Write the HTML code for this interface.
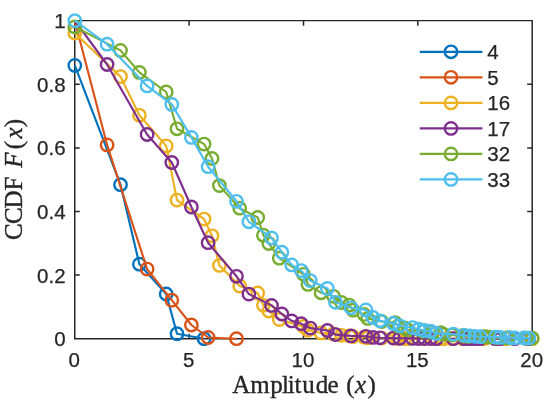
<!DOCTYPE html>
<html><head><meta charset="utf-8"><title>CCDF plot</title>
<style>html,body{margin:0;padding:0;background:#fff;}body{width:550px;height:407px;overflow:hidden;}svg{display:block;}</style>
</head><body>
<svg width="550" height="407" viewBox="0 0 550 407">
<rect width="550" height="407" fill="#fff"/>
<g stroke="#262626" stroke-width="1.5" fill="none">
<path d="M74.75 20.7V338.7H532.2V20.7"/>
<path d="M74.0 20.7H532.95" stroke-width="1.2"/>
<path d="M189.1 338.7v-5.0M189.1 20.7v5.0"/>
<path d="M303.5 338.7v-5.0M303.5 20.7v5.0"/>
<path d="M417.8 338.7v-5.0M417.8 20.7v5.0"/>
<path d="M74.75 275.1h5.0M532.2 275.1h-5.0"/>
<path d="M74.75 211.5h5.0M532.2 211.5h-5.0"/>
<path d="M74.75 147.9h5.0M532.2 147.9h-5.0"/>
<path d="M74.75 84.3h5.0M532.2 84.3h-5.0"/>
</g>
<g font-family="'Liberation Sans', sans-serif" font-size="20.5px" fill="#262626" stroke="#262626" stroke-width="0.25">
<text x="74.2" y="367.2" text-anchor="middle">0</text>
<text x="188.6" y="367.2" text-anchor="middle">5</text>
<text x="303.0" y="367.2" text-anchor="middle">10</text>
<text x="417.3" y="367.2" text-anchor="middle">15</text>
<text x="531.7" y="367.2" text-anchor="middle">20</text>
<text x="65.6" y="346.2" text-anchor="end">0</text>
<text x="65.6" y="282.6" text-anchor="end">0.2</text>
<text x="65.6" y="219.0" text-anchor="end">0.4</text>
<text x="65.6" y="155.4" text-anchor="end">0.6</text>
<text x="65.6" y="91.8" text-anchor="end">0.8</text>
<text x="65.6" y="28.2" text-anchor="end">1</text>
</g>
<g font-family="'Liberation Serif', serif" font-size="25px" fill="#262626" stroke="#262626" stroke-width="0.35" text-anchor="middle">
<text y="392.8"><tspan x="241.2 260 276.4 285.6 291.2 298 308.6 321.9 333 341.5 350.4">Amplitude (</tspan><tspan x="360.6" font-style="italic">x</tspan><tspan x="371.6">)</tspan></text>
<text transform="translate(22.4,0) rotate(-90)" y="0"><tspan x="-231.6 -215.75 -199.5 -183.6 -172">CCDF </tspan><tspan x="-160" font-style="italic">F</tspan><tspan x="-145.1">(</tspan><tspan x="-132.9" font-style="italic">x</tspan><tspan x="-123.1">)</tspan></text>
</g>
<g stroke="#0072BD" fill="none">
<path d="M74.8 65.4 L120.5 184.7 L139.4 264.2 L166.2 294.0 L177.0 333.7 L204.1 338.7" stroke-width="2.15" stroke-linejoin="round"/>
<g stroke-width="2.4">
<circle cx="74.8" cy="65.4" r="6.2"/>
<circle cx="120.5" cy="184.7" r="6.2"/>
<circle cx="139.4" cy="264.2" r="6.2"/>
<circle cx="166.2" cy="294.0" r="6.2"/>
<circle cx="177.0" cy="333.7" r="6.2"/>
<circle cx="204.1" cy="338.7" r="6.2"/>
</g></g>
<g stroke="#D95319" fill="none">
<path d="M74.8 20.7 L107.1 144.9 L147.1 269.1 L171.8 300.2 L191.4 325.0 L208.1 337.5 L236.5 338.7" stroke-width="2.15" stroke-linejoin="round"/>
<g stroke-width="2.4">
<circle cx="107.1" cy="144.9" r="6.2"/>
<circle cx="147.1" cy="269.1" r="6.2"/>
<circle cx="171.8" cy="300.2" r="6.2"/>
<circle cx="191.4" cy="325.0" r="6.2"/>
<circle cx="208.1" cy="337.5" r="6.2"/>
<circle cx="236.5" cy="338.7" r="6.2"/>
</g></g>
<g stroke="#EDB120" fill="none">
<path d="M74.8 33.0 L120.5 76.6 L139.4 115.3 L166.2 145.9 L177.0 200.1 L204.1 219.1 L212.0 235.8 L219.4 265.4 L239.7 286.1 L257.7 293.0 L263.4 305.3 L268.8 311.0 L279.3 319.6 L303.5 326.5 L308.0 330.3 L321.1 332.9 L333.5 333.9 L341.5 335.3 L349.2 335.8 L353.0 336.6 L364.1 337.2 L367.7 337.8 L381.6 338.1 L395.0 338.2 L398.2 338.4 L404.6 338.5 L407.8 338.6 L423.1 338.6 L432.0 338.7 L440.7 338.7 L443.6 338.7 L452.0 338.7 L462.9 338.7 L465.6 338.7 L468.3 338.7 L483.9 338.7 L496.5 338.7 L506.3 338.7 L527.6 338.7 L532.2 338.7" stroke-width="2.15" stroke-linejoin="round"/>
<g stroke-width="2.4">
<circle cx="74.8" cy="33.0" r="6.2"/>
<circle cx="120.5" cy="76.6" r="6.2"/>
<circle cx="139.4" cy="115.3" r="6.2"/>
<circle cx="166.2" cy="145.9" r="6.2"/>
<circle cx="177.0" cy="200.1" r="6.2"/>
<circle cx="204.1" cy="219.1" r="6.2"/>
<circle cx="212.0" cy="235.8" r="6.2"/>
<circle cx="219.4" cy="265.4" r="6.2"/>
<circle cx="239.7" cy="286.1" r="6.2"/>
<circle cx="257.7" cy="293.0" r="6.2"/>
<circle cx="263.4" cy="305.3" r="6.2"/>
<circle cx="268.8" cy="311.0" r="6.2"/>
<circle cx="279.3" cy="319.6" r="6.2"/>
<circle cx="303.5" cy="326.5" r="6.2"/>
<circle cx="308.0" cy="330.3" r="6.2"/>
<circle cx="321.1" cy="332.9" r="6.2"/>
<circle cx="333.5" cy="333.9" r="6.2"/>
<circle cx="341.5" cy="335.3" r="6.2"/>
<circle cx="349.2" cy="335.8" r="6.2"/>
<circle cx="353.0" cy="336.6" r="6.2"/>
<circle cx="364.1" cy="337.2" r="6.2"/>
<circle cx="367.7" cy="337.8" r="6.2"/>
<circle cx="381.6" cy="338.1" r="6.2"/>
<circle cx="395.0" cy="338.2" r="6.2"/>
<circle cx="398.2" cy="338.4" r="6.2"/>
<circle cx="404.6" cy="338.5" r="6.2"/>
<circle cx="407.8" cy="338.6" r="6.2"/>
<circle cx="423.1" cy="338.6" r="6.2"/>
<circle cx="432.0" cy="338.7" r="6.2"/>
<circle cx="440.7" cy="338.7" r="6.2"/>
<circle cx="443.6" cy="338.7" r="6.2"/>
<circle cx="452.0" cy="338.7" r="6.2"/>
<circle cx="462.9" cy="338.7" r="6.2"/>
<circle cx="465.6" cy="338.7" r="6.2"/>
<circle cx="468.3" cy="338.7" r="6.2"/>
<circle cx="483.9" cy="338.7" r="6.2"/>
<circle cx="496.5" cy="338.7" r="6.2"/>
<circle cx="506.3" cy="338.7" r="6.2"/>
<circle cx="527.6" cy="338.7" r="6.2"/>
<circle cx="532.2" cy="338.7" r="6.2"/>
</g></g>
<g stroke="#7E2F8E" fill="none">
<path d="M74.8 20.7 L107.1 64.5 L147.1 134.5 L171.8 162.5 L191.4 207.0 L208.1 242.7 L236.5 276.3 L248.9 294.1 L271.5 305.4 L281.9 314.0 L291.7 320.9 L301.2 323.7 L310.2 328.1 L327.4 330.5 L335.5 334.6 L351.1 335.9 L365.9 336.3 L373.0 337.4 L379.9 337.8 L393.3 338.1 L399.8 338.3 L412.5 338.4 L418.6 338.5 L424.6 338.5 L430.6 338.6 L436.4 338.7 L453.4 338.7 L464.3 338.7 L469.6 338.7 L474.9 338.7 L480.1 338.7 L495.3 338.7 L500.2 338.7 L514.7 338.7 L528.8 338.7" stroke-width="2.15" stroke-linejoin="round"/>
<g stroke-width="2.4">
<circle cx="107.1" cy="64.5" r="6.2"/>
<circle cx="147.1" cy="134.5" r="6.2"/>
<circle cx="171.8" cy="162.5" r="6.2"/>
<circle cx="191.4" cy="207.0" r="6.2"/>
<circle cx="208.1" cy="242.7" r="6.2"/>
<circle cx="236.5" cy="276.3" r="6.2"/>
<circle cx="248.9" cy="294.1" r="6.2"/>
<circle cx="271.5" cy="305.4" r="6.2"/>
<circle cx="281.9" cy="314.0" r="6.2"/>
<circle cx="291.7" cy="320.9" r="6.2"/>
<circle cx="301.2" cy="323.7" r="6.2"/>
<circle cx="310.2" cy="328.1" r="6.2"/>
<circle cx="327.4" cy="330.5" r="6.2"/>
<circle cx="335.5" cy="334.6" r="6.2"/>
<circle cx="351.1" cy="335.9" r="6.2"/>
<circle cx="365.9" cy="336.3" r="6.2"/>
<circle cx="373.0" cy="337.4" r="6.2"/>
<circle cx="379.9" cy="337.8" r="6.2"/>
<circle cx="393.3" cy="338.1" r="6.2"/>
<circle cx="399.8" cy="338.3" r="6.2"/>
<circle cx="412.5" cy="338.4" r="6.2"/>
<circle cx="418.6" cy="338.5" r="6.2"/>
<circle cx="424.6" cy="338.5" r="6.2"/>
<circle cx="430.6" cy="338.6" r="6.2"/>
<circle cx="436.4" cy="338.7" r="6.2"/>
<circle cx="453.4" cy="338.7" r="6.2"/>
<circle cx="464.3" cy="338.7" r="6.2"/>
<circle cx="469.6" cy="338.7" r="6.2"/>
<circle cx="474.9" cy="338.7" r="6.2"/>
<circle cx="480.1" cy="338.7" r="6.2"/>
<circle cx="495.3" cy="338.7" r="6.2"/>
<circle cx="500.2" cy="338.7" r="6.2"/>
<circle cx="514.7" cy="338.7" r="6.2"/>
<circle cx="528.8" cy="338.7" r="6.2"/>
</g></g>
<g stroke="#77AC30" fill="none">
<path d="M74.8 26.9 L120.5 50.4 L139.4 72.4 L166.2 92.0 L177.0 128.8 L204.1 144.1 L212.0 158.5 L219.4 185.6 L239.7 208.2 L257.7 217.5 L263.4 235.2 L268.8 243.5 L279.3 258.2 L303.5 274.3 L308.0 284.4 L321.1 292.8 L333.5 296.3 L341.5 302.5 L349.2 305.1 L353.0 310.2 L364.1 314.4 L367.7 318.4 L381.6 321.5 L395.0 322.6 L398.2 326.0 L404.6 328.0 L407.8 329.8 L423.1 331.2 L432.0 332.3 L440.7 332.7 L443.6 334.4 L452.0 335.1 L462.9 335.4 L465.6 335.9 L468.3 336.4 L483.9 336.7 L486.5 336.9 L489.0 337.1 L496.5 337.6 L506.3 337.8 L508.7 338.0 L525.3 338.1 L527.6 338.1 L532.2 338.2" stroke-width="2.15" stroke-linejoin="round"/>
<g stroke-width="2.4">
<circle cx="74.8" cy="26.9" r="6.2"/>
<circle cx="120.5" cy="50.4" r="6.2"/>
<circle cx="139.4" cy="72.4" r="6.2"/>
<circle cx="166.2" cy="92.0" r="6.2"/>
<circle cx="177.0" cy="128.8" r="6.2"/>
<circle cx="204.1" cy="144.1" r="6.2"/>
<circle cx="212.0" cy="158.5" r="6.2"/>
<circle cx="219.4" cy="185.6" r="6.2"/>
<circle cx="239.7" cy="208.2" r="6.2"/>
<circle cx="257.7" cy="217.5" r="6.2"/>
<circle cx="263.4" cy="235.2" r="6.2"/>
<circle cx="268.8" cy="243.5" r="6.2"/>
<circle cx="279.3" cy="258.2" r="6.2"/>
<circle cx="303.5" cy="274.3" r="6.2"/>
<circle cx="308.0" cy="284.4" r="6.2"/>
<circle cx="321.1" cy="292.8" r="6.2"/>
<circle cx="333.5" cy="296.3" r="6.2"/>
<circle cx="341.5" cy="302.5" r="6.2"/>
<circle cx="349.2" cy="305.1" r="6.2"/>
<circle cx="353.0" cy="310.2" r="6.2"/>
<circle cx="364.1" cy="314.4" r="6.2"/>
<circle cx="367.7" cy="318.4" r="6.2"/>
<circle cx="381.6" cy="321.5" r="6.2"/>
<circle cx="395.0" cy="322.6" r="6.2"/>
<circle cx="398.2" cy="326.0" r="6.2"/>
<circle cx="404.6" cy="328.0" r="6.2"/>
<circle cx="407.8" cy="329.8" r="6.2"/>
<circle cx="423.1" cy="331.2" r="6.2"/>
<circle cx="432.0" cy="332.3" r="6.2"/>
<circle cx="440.7" cy="332.7" r="6.2"/>
<circle cx="443.6" cy="334.4" r="6.2"/>
<circle cx="452.0" cy="335.1" r="6.2"/>
<circle cx="462.9" cy="335.4" r="6.2"/>
<circle cx="465.6" cy="335.9" r="6.2"/>
<circle cx="468.3" cy="336.4" r="6.2"/>
<circle cx="483.9" cy="336.7" r="6.2"/>
<circle cx="486.5" cy="336.9" r="6.2"/>
<circle cx="489.0" cy="337.1" r="6.2"/>
<circle cx="496.5" cy="337.6" r="6.2"/>
<circle cx="506.3" cy="337.8" r="6.2"/>
<circle cx="508.7" cy="338.0" r="6.2"/>
<circle cx="525.3" cy="338.1" r="6.2"/>
<circle cx="527.6" cy="338.1" r="6.2"/>
<circle cx="532.2" cy="338.2" r="6.2"/>
</g></g>
<g stroke="#4DBEEE" fill="none">
<path d="M74.8 20.7 L107.1 44.2 L147.1 85.9 L171.8 104.4 L191.4 137.4 L208.1 166.7 L236.5 201.3 L248.9 221.8 L271.5 237.9 L281.9 252.2 L291.7 264.9 L301.2 270.6 L310.2 280.6 L327.4 288.4 L335.5 302.3 L351.1 307.8 L365.9 309.9 L373.0 317.5 L379.9 320.8 L393.3 323.4 L399.8 325.8 L412.5 327.6 L418.6 329.2 L424.6 330.5 L430.6 331.2 L436.4 333.4 L453.4 334.2 L464.3 335.3 L469.6 335.8 L474.9 336.3 L480.1 336.7 L495.3 337.1 L500.2 337.4 L509.9 337.6 L514.7 337.9 L524.1 338.0 L528.8 338.1" stroke-width="2.15" stroke-linejoin="round"/>
<g stroke-width="2.4">
<circle cx="74.8" cy="20.7" r="6.2"/>
<circle cx="107.1" cy="44.2" r="6.2"/>
<circle cx="147.1" cy="85.9" r="6.2"/>
<circle cx="171.8" cy="104.4" r="6.2"/>
<circle cx="191.4" cy="137.4" r="6.2"/>
<circle cx="208.1" cy="166.7" r="6.2"/>
<circle cx="236.5" cy="201.3" r="6.2"/>
<circle cx="248.9" cy="221.8" r="6.2"/>
<circle cx="271.5" cy="237.9" r="6.2"/>
<circle cx="281.9" cy="252.2" r="6.2"/>
<circle cx="291.7" cy="264.9" r="6.2"/>
<circle cx="301.2" cy="270.6" r="6.2"/>
<circle cx="310.2" cy="280.6" r="6.2"/>
<circle cx="327.4" cy="288.4" r="6.2"/>
<circle cx="335.5" cy="302.3" r="6.2"/>
<circle cx="351.1" cy="307.8" r="6.2"/>
<circle cx="365.9" cy="309.9" r="6.2"/>
<circle cx="373.0" cy="317.5" r="6.2"/>
<circle cx="379.9" cy="320.8" r="6.2"/>
<circle cx="393.3" cy="323.4" r="6.2"/>
<circle cx="399.8" cy="325.8" r="6.2"/>
<circle cx="412.5" cy="327.6" r="6.2"/>
<circle cx="418.6" cy="329.2" r="6.2"/>
<circle cx="424.6" cy="330.5" r="6.2"/>
<circle cx="430.6" cy="331.2" r="6.2"/>
<circle cx="436.4" cy="333.4" r="6.2"/>
<circle cx="453.4" cy="334.2" r="6.2"/>
<circle cx="464.3" cy="335.3" r="6.2"/>
<circle cx="469.6" cy="335.8" r="6.2"/>
<circle cx="474.9" cy="336.3" r="6.2"/>
<circle cx="480.1" cy="336.7" r="6.2"/>
<circle cx="495.3" cy="337.1" r="6.2"/>
<circle cx="500.2" cy="337.4" r="6.2"/>
<circle cx="509.9" cy="337.6" r="6.2"/>
<circle cx="514.7" cy="337.9" r="6.2"/>
<circle cx="524.1" cy="338.0" r="6.2"/>
<circle cx="528.8" cy="338.1" r="6.2"/>
</g></g>
<g font-family="'Liberation Sans', sans-serif" font-size="20.5px" fill="#262626" stroke="#262626" stroke-width="0.25">
<path d="M419.7 51.8H482.4" stroke="#0072BD" stroke-width="2.15" fill="none"/>
<circle cx="451" cy="51.8" r="6.2" stroke="#0072BD" stroke-width="2.4" fill="none"/>
<text x="487.3" y="59.0">4</text>
<path d="M419.7 77.3H482.4" stroke="#D95319" stroke-width="2.15" fill="none"/>
<circle cx="451" cy="77.3" r="6.2" stroke="#D95319" stroke-width="2.4" fill="none"/>
<text x="487.3" y="84.5">5</text>
<path d="M419.7 102.9H482.4" stroke="#EDB120" stroke-width="2.15" fill="none"/>
<circle cx="451" cy="102.9" r="6.2" stroke="#EDB120" stroke-width="2.4" fill="none"/>
<text x="487.3" y="110.1">16</text>
<path d="M419.7 128.4H482.4" stroke="#7E2F8E" stroke-width="2.15" fill="none"/>
<circle cx="451" cy="128.4" r="6.2" stroke="#7E2F8E" stroke-width="2.4" fill="none"/>
<text x="487.3" y="135.6">17</text>
<path d="M419.7 153.9H482.4" stroke="#77AC30" stroke-width="2.15" fill="none"/>
<circle cx="451" cy="153.9" r="6.2" stroke="#77AC30" stroke-width="2.4" fill="none"/>
<text x="487.3" y="161.1">32</text>
<path d="M419.7 179.4H482.4" stroke="#4DBEEE" stroke-width="2.15" fill="none"/>
<circle cx="451" cy="179.4" r="6.2" stroke="#4DBEEE" stroke-width="2.4" fill="none"/>
<text x="487.3" y="186.6">33</text>
</g>
</svg>
</body></html>
